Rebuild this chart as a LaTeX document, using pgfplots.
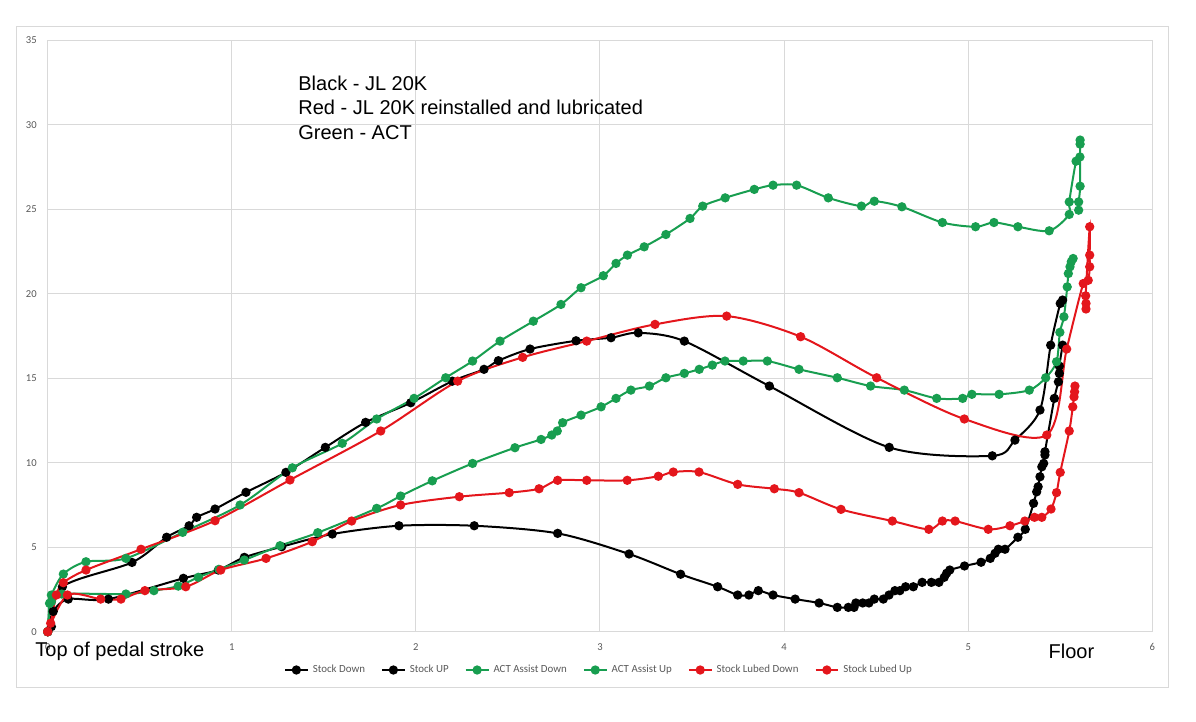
\documentclass[border=0pt]{standalone}
\usepackage{pgfplots}
\pgfplotsset{compat=1.18}
\usepackage{fontspec}
\setmainfont{Carlito}
\newfontfamily\arialfont{Liberation Sans}
\definecolor{xlgreen}{RGB}{24,158,80}
\definecolor{xlred}{RGB}{228,22,28}
\definecolor{gridgray}{RGB}{217,217,217}
\definecolor{labgray}{RGB}{89,89,89}
\begin{document}
\begin{tikzpicture}
\path[use as bounding box] (-23.85pt,-45.15pt) rectangle (574.15pt,315.85pt);
\draw[gridgray, line width=0.5pt] (-15.35pt,-28.15pt) rectangle (560.15pt,302.35pt);
\begin{axis}[
  at={(0pt,0pt)}, anchor=south west,
  scale only axis, width=552.3pt, height=295.65pt,
  xmin=0, xmax=6, ymin=0, ymax=35,
  xtick={0,...,6}, ytick={0,5,...,35},
  grid=major, grid style={gridgray, line width=0.5pt},
  axis line style={gridgray, line width=0.5pt},
  major tick length=0pt,
  tick label style={font=\fontsize{5.3}{6}\selectfont, text=labgray},
  /pgf/number format/assume math mode=true,
  yticklabel style={anchor=east, inner sep=0pt, xshift=-5.3pt},
  xticklabel style={anchor=north, inner sep=0pt, yshift=-5.7pt},
  clip=false,
  every axis plot/.append style={line width=1pt, mark=*, mark size=1.8pt, mark options={solid}, smooth, tension=0.5},
  legend style={at={(axis description cs:0.5,-0.0648)}, anchor=center, draw=none, fill=none,
    font=\fontsize{5.45}{6}\selectfont, text=labgray, legend columns=-1,
    /tikz/every even column/.append style={column sep=6pt}},
  legend image code/.code={\draw[mark repeat=2,mark phase=2] plot coordinates {(0cm,0cm)(0.2cm,0cm)(0.4cm,0cm)};},
]
% Stock Down
\addplot[black] coordinates {(0,0)(0.02,0.3)(0.08,2.66)(0.458,4.1)(0.646,5.59)(0.768,6.27)(0.809,6.77)(0.909,7.26)(1.077,8.25)(1.294,9.43)(1.508,10.91)(1.727,12.39)(1.972,13.55)(2.198,14.83)(2.37,15.53)(2.448,16.04)(2.62,16.73)(2.87,17.22)(3.06,17.40)(3.208,17.69)(3.458,17.20)(3.92,14.54)(4.571,10.91)(5.131,10.41)(5.254,11.34)(5.39,13.12)(5.448,16.96)(5.50,19.43)(5.513,19.63)};
\addlegendentry{Stock Down}
% Stock UP
\addplot[black] coordinates {(0,0)(0.03,1.2)(0.112,1.93)(0.33,1.93)(0.737,3.16)(0.927,3.65)(1.068,4.40)(1.271,5.03)(1.546,5.78)(1.908,6.27)(2.317,6.27)(2.77,5.82)(3.158,4.60)(3.438,3.40)(3.639,2.66)(3.748,2.17)(3.809,2.17)(3.86,2.43)(3.94,2.17)(4.06,1.93)(4.19,1.70)(4.289,1.44)(4.349,1.44)(4.38,1.44)(4.39,1.70)(4.427,1.70)(4.461,1.70)(4.49,1.93)(4.539,1.93)(4.57,2.17)(4.602,2.43)(4.629,2.43)(4.66,2.66)(4.702,2.66)(4.75,2.92)(4.80,2.92)(4.841,2.92)(4.87,3.22)(4.883,3.46)(4.90,3.65)(4.98,3.89)(5.07,4.11)(5.12,4.34)(5.146,4.64)(5.164,4.88)(5.20,4.88)(5.27,5.59)(5.31,6.06)(5.355,7.6)(5.372,8.28)(5.38,8.58)(5.39,9.17)(5.40,9.76)(5.41,9.96)(5.417,10.46)(5.417,10.65)(5.468,13.81)(5.49,14.79)(5.495,15.29)(5.495,15.72)(5.513,16.96)};
\addlegendentry{Stock UP}
% ACT Assist Down
\addplot[xlgreen] coordinates {(0,0)(0.01,1.68)(0.02,2.17)(0.085,3.41)(0.208,4.14)(0.425,4.34)(0.733,5.88)(1.045,7.5)(1.329,9.70)(1.60,11.15)(1.787,12.59)(1.99,13.81)(2.162,15.03)(2.308,16.02)(2.457,17.2)(2.638,18.38)(2.788,19.37)(2.897,20.36)(3.018,21.07)(3.087,21.80)(3.149,22.29)(3.24,22.78)(3.358,23.51)(3.489,24.46)(3.558,25.19)(3.68,25.68)(3.838,26.18)(3.94,26.43)(4.068,26.43)(4.24,25.68)(4.42,25.19)(4.49,25.48)(4.64,25.15)(4.86,24.22)(5.04,23.97)(5.14,24.22)(5.27,23.97)(5.44,23.73)(5.549,24.70)(5.549,25.44)(5.586,27.85)(5.607,28.1)(5.608,28.86)(5.608,29.1)(5.608,26.37)(5.6,25.44)(5.6,24.95)};
\addlegendentry{ACT Assist Down}
% ACT Assist Up
\addplot[xlgreen] coordinates {(0,0)(0.02,1.78)(0.076,2.23)(0.425,2.23)(0.577,2.43)(0.709,2.7)(0.818,3.22)(0.93,3.69)(1.068,4.24)(1.262,5.09)(1.467,5.86)(1.787,7.3)(1.917,8.03)(2.089,8.93)(2.308,9.96)(2.538,10.89)(2.68,11.38)(2.738,11.64)(2.768,11.88)(2.797,12.37)(2.897,12.82)(3.006,13.31)(3.087,13.81)(3.168,14.3)(3.268,14.54)(3.358,15.03)(3.458,15.29)(3.539,15.53)(3.61,15.78)(3.679,16.02)(3.778,16.02)(3.909,16.02)(4.081,15.53)(4.289,15.03)(4.47,14.54)(4.653,14.3)(4.829,13.81)(4.97,13.81)(5.02,14.05)(5.168,14.05)(5.332,14.3)(5.421,15.03)(5.48,15.98)(5.498,17.72)(5.52,18.64)(5.538,20.41)(5.544,21.2)(5.553,21.6)(5.56,21.9)(5.57,22.09)};
\addlegendentry{ACT Assist Up}
% Stock Lubed Down
\addplot[xlred] coordinates {(0,0)(0.016,0.5)(0.047,2.17)(0.085,2.9)(0.208,3.65)(0.507,4.88)(0.909,6.57)(1.316,8.98)(1.809,11.88)(2.227,14.83)(2.58,16.24)(2.928,17.2)(3.299,18.19)(3.688,18.68)(4.09,17.46)(4.503,15.03)(4.979,12.59)(5.427,11.64)(5.535,16.73)(5.625,20.61)(5.652,20.8)(5.66,21.6)(5.66,22.29)(5.66,23.97)(5.638,19.88)(5.64,19.43)(5.64,19.1)};
\addlegendentry{Stock Lubed Down}
% Stock Lubed Up
\addplot[xlred] coordinates {(0,0)(0.107,2.17)(0.288,1.93)(0.398,1.93)(0.528,2.43)(0.75,2.66)(0.94,3.65)(1.186,4.34)(1.437,5.33)(1.651,6.55)(1.917,7.5)(2.236,7.99)(2.507,8.23)(2.669,8.46)(2.77,8.96)(2.928,8.96)(3.148,8.96)(3.317,9.2)(3.398,9.45)(3.538,9.45)(3.748,8.72)(3.947,8.46)(4.081,8.23)(4.309,7.24)(4.588,6.55)(4.786,6.06)(4.86,6.55)(4.929,6.55)(5.109,6.06)(5.227,6.27)(5.308,6.55)(5.36,6.77)(5.40,6.77)(5.45,7.26)(5.48,8.23)(5.50,9.43)(5.549,11.88)(5.568,13.31)(5.575,13.9)(5.578,14.2)(5.58,14.54)};
\addlegendentry{Stock Lubed Up}
\end{axis}
\node[anchor=base west, inner sep=0pt, font=\arialfont\fontsize{10}{12}\selectfont] at (125.15pt,270.7pt) {Black - JL 20K};
\node[anchor=base west, inner sep=0pt, font=\arialfont\fontsize{10}{12}\selectfont] at (125.15pt,258.7pt) {Red - JL 20K reinstalled and lubricated};
\node[anchor=base west, inner sep=0pt, font=\arialfont\fontsize{10}{12}\selectfont] at (125.15pt,246.2pt) {Green - ACT};
\node[anchor=base west, inner sep=0pt, font=\arialfont\fontsize{10}{12}\selectfont] at (-6.35pt,-12.6pt) {Top of pedal stroke};
\node[anchor=base west, inner sep=0pt, font=\arialfont\fontsize{10}{12}\selectfont] at (500.3pt,-13.2pt) {Floor};
\end{tikzpicture}
\end{document}
